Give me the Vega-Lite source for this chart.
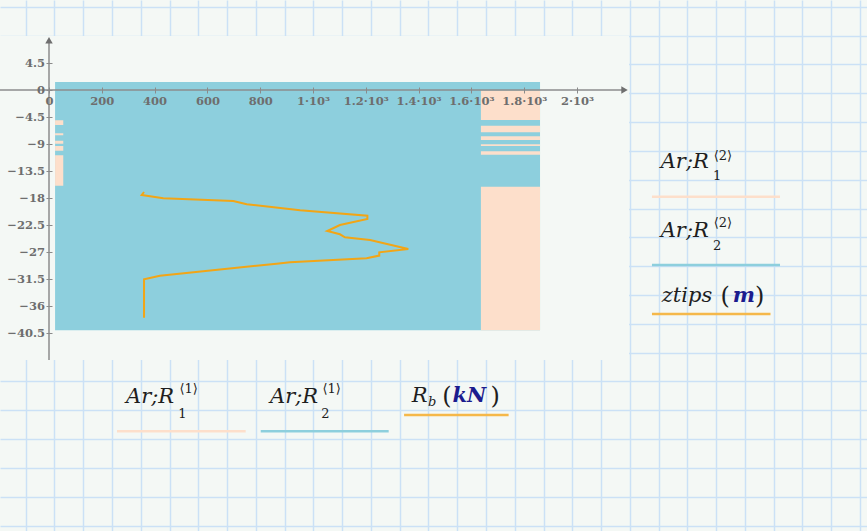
{
  "$schema": "https://vega.github.io/schema/vega-lite/v6.json",
  "width": 867,
  "height": 531,
  "padding": 0,
  "autosize": "none",
  "background": "#f4f8f5",
  "config": {"view": {"stroke": null}},
  "datasets": {
    "bars": [
      {"series": "Ar;R2", "x0": 23, "x1": 1860, "z0": 1.33, "z1": -40.05},
      {"series": "Ar;R1", "x0": 23, "x1": 54, "z0": -5.05, "z1": -5.83},
      {"series": "Ar;R1", "x0": 23, "x1": 54, "z0": -7.22, "z1": -7.55},
      {"series": "Ar;R1", "x0": 23, "x1": 54, "z0": -8.45, "z1": -8.95},
      {"series": "Ar;R1", "x0": 23, "x1": 54, "z0": -9.33, "z1": -10.12},
      {"series": "Ar;R1", "x0": 23, "x1": 54, "z0": -10.88, "z1": -15.95},
      {"series": "Ar;R1", "x0": 1636, "x1": 1860, "z0": -0.1, "z1": -5.0},
      {"series": "Ar;R1", "x0": 1636, "x1": 1860, "z0": -5.95, "z1": -7.05},
      {"series": "Ar;R1", "x0": 1636, "x1": 1860, "z0": -7.72, "z1": -8.33},
      {"series": "Ar;R1", "x0": 1636, "x1": 1860, "z0": -9.05, "z1": -9.33},
      {"series": "Ar;R1", "x0": 1636, "x1": 1860, "z0": -10.22, "z1": -10.78},
      {"series": "Ar;R1", "x0": 1636, "x1": 1860, "z0": -16.12, "z1": -40.05}
    ],
    "rb": [
      {"i": 1, "rb": 360, "z": -17.0},
      {"i": 2, "rb": 351, "z": -17.5},
      {"i": 3, "rb": 433, "z": -18.05},
      {"i": 4, "rb": 698, "z": -18.5},
      {"i": 5, "rb": 749, "z": -19.05},
      {"i": 6, "rb": 951, "z": -20.05},
      {"i": 7, "rb": 1206, "z": -20.95},
      {"i": 8, "rb": 1206, "z": -21.5},
      {"i": 9, "rb": 1102, "z": -22.5},
      {"i": 10, "rb": 1054, "z": -23.5},
      {"i": 11, "rb": 1102, "z": -24.05},
      {"i": 12, "rb": 1121, "z": -24.55},
      {"i": 13, "rb": 1216, "z": -25.0},
      {"i": 14, "rb": 1361, "z": -26.5},
      {"i": 15, "rb": 1251, "z": -27.05},
      {"i": 16, "rb": 1251, "z": -27.6},
      {"i": 17, "rb": 1203, "z": -28.05},
      {"i": 18, "rb": 913, "z": -28.7},
      {"i": 19, "rb": 862, "z": -28.95},
      {"i": 20, "rb": 420, "z": -30.95},
      {"i": 21, "rb": 360, "z": -31.55},
      {"i": 22, "rb": 360, "z": -37.95}
    ]
  },
  "layer": [
    {
      "data": {"values": [{}]},
      "mark": {"type": "point", "opacity": 0},
      "encoding": {
        "x": {
          "datum": 0, "type": "quantitative",
          "scale": {"domain": [-0.8933, 29.243], "nice": false, "zero": false},
          "axis": {"orient": "top", "values": [0,1,2,3,4,5,6,7,8,9,10,11,12,13,14,15,16,17,18,19,20,21,22,23,24,25,26,27,28,29],
                   "grid": true, "gridColor": "#cbe1f6", "gridWidth": 1.5, "labels": false, "ticks": false, "domain": false, "title": null, "zindex": 0}
        },
        "y": {
          "datum": 0, "type": "quantitative",
          "scale": {"domain": [-0.2324, 18.186], "nice": false, "zero": false, "reverse": true},
          "axis": {"orient": "right", "values": [0,1,2,3,4,5,6,7,8,9,10,11,12,13,14,15,16,17,18],
                   "grid": true, "gridColor": "#cbe1f6", "gridWidth": 1.5, "labels": false, "ticks": false, "domain": false, "title": null, "zindex": 0}
        }
      }
    },
    {
      "data": {"values": [{}]},
      "layer": [
        {
          "mark": {"type": "rect", "color": "#f4f8f5"},
          "encoding": {
            "x": {
              "datum": -185.6, "type": "quantitative",
              "scale": {"domain": [-185.6, 3098.5], "nice": false, "zero": false},
              "axis": {"orient": "bottom", "offset": -444, "values": [0,200,400,600,800,1000,1200,1400,1600,1800,2000],
                       "labelExpr": "datum.value >= 1000 ? (datum.value == 1000 ? '1' : format(datum.value / 1000, '.1~f')) + '·10³' : datum.label",
                       "domain": false, "grid": false, "tickSize": 6, "tickColor": "#8a8a8a", "tickWidth": 1,
                       "labelFont": "DejaVu Serif", "labelFontSize": 11.5, "labelFontWeight": "bold", "labelColor": "#6e6e6e",
                       "labelPadding": 2, "labelFlush": false, "labelOverlap": false, "title": null, "zindex": 1}
            },
            "x2": {"datum": 2197},
            "y": {
              "datum": 9.0, "type": "quantitative",
              "scale": {"domain": [-73.5, 15], "nice": false, "zero": false},
              "axis": {"orient": "left", "offset": -52, "values": [4.5,0,-4.5,-9,-13.5,-18,-22.5,-27,-31.5,-36,-40.5],
                       "format": ".1~f", "domain": false, "grid": false, "tickSize": 6, "tickColor": "#8a8a8a", "tickWidth": 1,
                       "labelFont": "DejaVu Serif", "labelFontSize": 11.5, "labelFontWeight": "bold", "labelColor": "#6e6e6e",
                       "labelPadding": 1.5, "labelFlush": false, "labelOverlap": false, "title": null, "zindex": 1}
            },
            "y2": {"datum": -45}
          }
        },
        {
          "data": {"name": "bars"},
          "mark": {"type": "rect"},
          "encoding": {
            "x": {"field": "x0", "type": "quantitative", "title": null},
            "x2": {"field": "x1"},
            "y": {"field": "z0", "type": "quantitative", "title": null},
            "y2": {"field": "z1"},
            "color": {"field": "series", "type": "nominal", "scale": {"domain": ["Ar;R1", "Ar;R2"], "range": ["#fddfcb", "#8dcfdd"]}, "legend": null}
          }
        },
        {
          "mark": {"type": "rule", "color": "#8c8c8c", "strokeWidth": 1.5},
          "encoding": {"x": {"datum": -185.6}, "x2": {"datum": 2172}, "y": {"datum": 0}}
        },
        {
          "mark": {"type": "rule", "color": "#8c8c8c", "strokeWidth": 1.5},
          "encoding": {"x": {"datum": 0}, "y": {"datum": -45}, "y2": {"datum": 8.0}}
        },
        {
          "mark": {"type": "point", "shape": "triangle-right", "filled": true, "color": "#6f6f6f", "size": 55, "opacity": 1},
          "encoding": {"x": {"datum": 2180}, "y": {"datum": 0}}
        },
        {
          "mark": {"type": "point", "shape": "triangle-up", "filled": true, "color": "#6f6f6f", "size": 55, "opacity": 1},
          "encoding": {"x": {"datum": 0}, "y": {"datum": 8.3}}
        },
        {
          "data": {"name": "rb"},
          "mark": {"type": "line", "color": "#f2a516", "strokeWidth": 2},
          "encoding": {
            "x": {"field": "rb", "type": "quantitative", "title": null},
            "y": {"field": "z", "type": "quantitative", "title": null},
            "order": {"field": "i"}
          }
        },
        {"mark": {"type": "text", "text": "Ar;R", "font": "DejaVu Serif", "fontStyle": "italic", "fontSize": 21, "color": "#1e1e1e", "align": "left", "baseline": "alphabetic"},
         "encoding": {"x": {"datum": 2317}, "y": {"datum": -13.05}}},
        {"mark": {"type": "text", "text": "1", "font": "DejaVu Serif", "fontSize": 13, "color": "#1e1e1e", "align": "left", "baseline": "alphabetic"},
         "encoding": {"x": {"datum": 2515}, "y": {"datum": -15.0}}},
        {"mark": {"type": "text", "text": "⟨2⟩", "font": "DejaVu Serif", "fontSize": 13, "color": "#1e1e1e", "align": "left", "baseline": "alphabetic"},
         "encoding": {"x": {"datum": 2518}, "y": {"datum": -11.67}}},
        {"mark": {"type": "rule", "color": "#fddfcb", "strokeWidth": 2.5},
         "encoding": {"x": {"datum": 2284}, "x2": {"datum": 2769}, "y": {"datum": -17.78}}},
        {"mark": {"type": "text", "text": "Ar;R", "font": "DejaVu Serif", "fontStyle": "italic", "fontSize": 21, "color": "#1e1e1e", "align": "left", "baseline": "alphabetic"},
         "encoding": {"x": {"datum": 2317}, "y": {"datum": -24.55}}},
        {"mark": {"type": "text", "text": "2", "font": "DejaVu Serif", "fontSize": 13, "color": "#1e1e1e", "align": "left", "baseline": "alphabetic"},
         "encoding": {"x": {"datum": 2515}, "y": {"datum": -26.67}}},
        {"mark": {"type": "text", "text": "⟨2⟩", "font": "DejaVu Serif", "fontSize": 13, "color": "#1e1e1e", "align": "left", "baseline": "alphabetic"},
         "encoding": {"x": {"datum": 2518}, "y": {"datum": -22.75}}},
        {"mark": {"type": "rule", "color": "#8dcfdd", "strokeWidth": 2.5},
         "encoding": {"x": {"datum": 2284}, "x2": {"datum": 2769}, "y": {"datum": -29.17}}},
        {"mark": {"type": "text", "text": "ztips", "font": "DejaVu Serif", "fontStyle": "italic", "fontSize": 21, "color": "#1e1e1e", "align": "left", "baseline": "alphabetic"},
         "encoding": {"x": {"datum": 2321}, "y": {"datum": -35.28}}},
        {"mark": {"type": "text", "text": "(", "font": "DejaVu Serif", "fontSize": 24, "color": "#1e1e1e", "align": "left", "baseline": "alphabetic"},
         "encoding": {"x": {"datum": 2544}, "y": {"datum": -35.6}}},
        {"mark": {"type": "text", "text": "m", "font": "DejaVu Serif", "fontStyle": "italic", "fontWeight": "bold", "fontSize": 21, "color": "#1c1c8e", "align": "left", "baseline": "alphabetic"},
         "encoding": {"x": {"datum": 2590}, "y": {"datum": -35.28}}},
        {"mark": {"type": "text", "text": ")", "font": "DejaVu Serif", "fontSize": 24, "color": "#1e1e1e", "align": "left", "baseline": "alphabetic"},
         "encoding": {"x": {"datum": 2674}, "y": {"datum": -35.6}}},
        {"mark": {"type": "rule", "color": "#f5b84a", "strokeWidth": 2.5},
         "encoding": {"x": {"datum": 2284}, "x2": {"datum": 2733}, "y": {"datum": -37.33}}},
        {"mark": {"type": "text", "text": "Ar;R", "font": "DejaVu Serif", "fontStyle": "italic", "fontSize": 21, "color": "#1e1e1e", "align": "left", "baseline": "alphabetic"},
         "encoding": {"x": {"datum": 291.7}, "y": {"datum": -52.17}}},
        {"mark": {"type": "text", "text": "1", "font": "DejaVu Serif", "fontSize": 13, "color": "#1e1e1e", "align": "left", "baseline": "alphabetic"},
         "encoding": {"x": {"datum": 490}, "y": {"datum": -54.67}}},
        {"mark": {"type": "text", "text": "⟨1⟩", "font": "DejaVu Serif", "fontSize": 13, "color": "#1e1e1e", "align": "left", "baseline": "alphabetic"},
         "encoding": {"x": {"datum": 494}, "y": {"datum": -50.5}}},
        {"mark": {"type": "rule", "color": "#fddfcb", "strokeWidth": 2.5},
         "encoding": {"x": {"datum": 257.6}, "x2": {"datum": 745}, "y": {"datum": -56.88}}},
        {"mark": {"type": "text", "text": "Ar;R", "font": "DejaVu Serif", "fontStyle": "italic", "fontSize": 21, "color": "#1e1e1e", "align": "left", "baseline": "alphabetic"},
         "encoding": {"x": {"datum": 837}, "y": {"datum": -52.17}}},
        {"mark": {"type": "text", "text": "2", "font": "DejaVu Serif", "fontSize": 13, "color": "#1e1e1e", "align": "left", "baseline": "alphabetic"},
         "encoding": {"x": {"datum": 1031}, "y": {"datum": -54.67}}},
        {"mark": {"type": "text", "text": "⟨1⟩", "font": "DejaVu Serif", "fontSize": 13, "color": "#1e1e1e", "align": "left", "baseline": "alphabetic"},
         "encoding": {"x": {"datum": 1036}, "y": {"datum": -50.5}}},
        {"mark": {"type": "rule", "color": "#8dcfdd", "strokeWidth": 2.5},
         "encoding": {"x": {"datum": 802}, "x2": {"datum": 1286.7}, "y": {"datum": -56.88}}},
        {"mark": {"type": "text", "text": "R", "font": "DejaVu Serif", "fontStyle": "italic", "fontSize": 21, "color": "#1e1e1e", "align": "left", "baseline": "alphabetic"},
         "encoding": {"x": {"datum": 1374}, "y": {"datum": -51.95}}},
        {"mark": {"type": "text", "text": "b", "font": "DejaVu Serif", "fontStyle": "italic", "fontSize": 13, "color": "#1e1e1e", "align": "left", "baseline": "alphabetic"},
         "encoding": {"x": {"datum": 1436}, "y": {"datum": -52.6}}},
        {"mark": {"type": "text", "text": "(", "font": "DejaVu Serif", "fontSize": 24, "color": "#1e1e1e", "align": "left", "baseline": "alphabetic"},
         "encoding": {"x": {"datum": 1490}, "y": {"datum": -52.3}}},
        {"mark": {"type": "text", "text": "kN", "font": "DejaVu Serif", "fontStyle": "italic", "fontWeight": "bold", "fontSize": 21, "color": "#1c1c8e", "align": "left", "baseline": "alphabetic"},
         "encoding": {"x": {"datum": 1528}, "y": {"datum": -51.95}}},
        {"mark": {"type": "text", "text": ")", "font": "DejaVu Serif", "fontSize": 24, "color": "#1e1e1e", "align": "left", "baseline": "alphabetic"},
         "encoding": {"x": {"datum": 1672}, "y": {"datum": -52.3}}},
        {"mark": {"type": "rule", "color": "#f5b84a", "strokeWidth": 2.5},
         "encoding": {"x": {"datum": 1345}, "x2": {"datum": 1741}, "y": {"datum": -54.17}}}
      ]
    }
  ],
  "resolve": {"scale": {"x": "independent", "y": "independent"}}
}
